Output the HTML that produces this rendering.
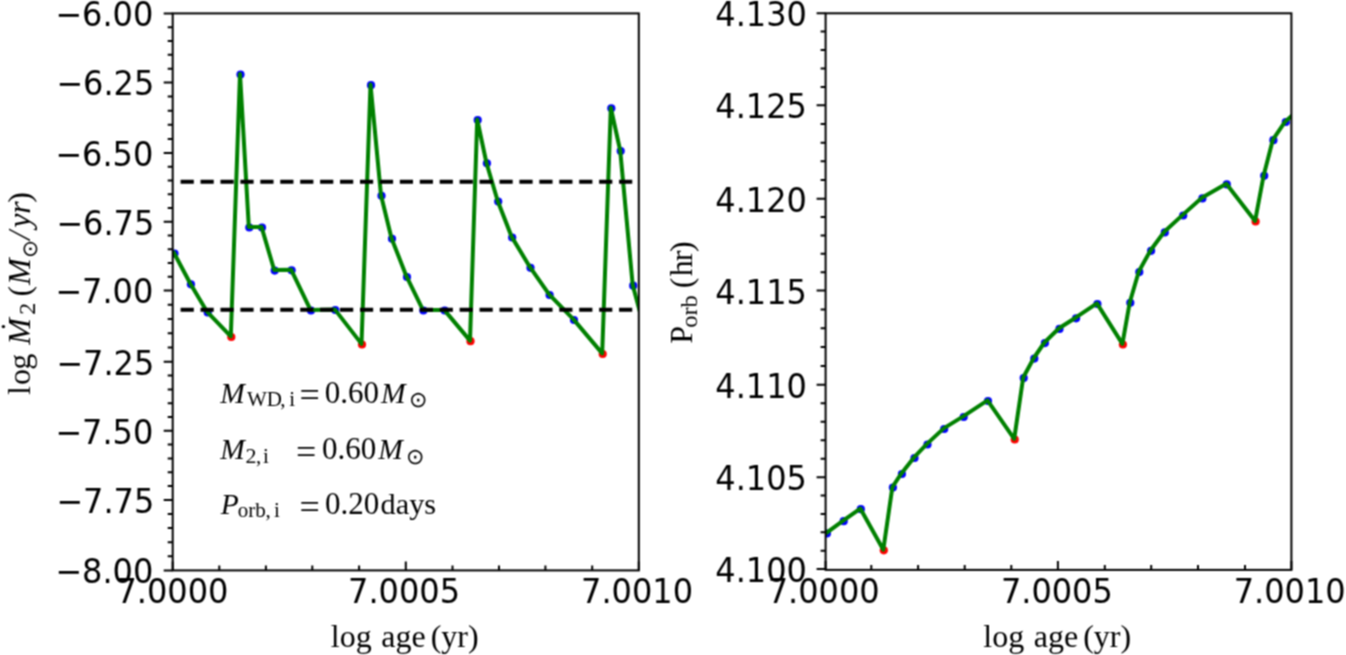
<!DOCTYPE html>
<html><head><meta charset="utf-8"><title>plot</title>
<style>
html,body{margin:0;padding:0;background:#fff;}
body{width:1346px;height:655px;overflow:hidden;}
svg{display:block;}
text{fill:#000;}
</style></head><body>
<svg width="1346" height="655" viewBox="0 0 1346 655">
<defs><filter id="bl" x="0" y="0" width="1346" height="655" filterUnits="userSpaceOnUse" color-interpolation-filters="sRGB"><feConvolveMatrix order="3" kernelMatrix="1 2 1 2 4 2 1 2 1" divisor="16" edgeMode="duplicate"/></filter></defs>
<g filter="url(#bl)">
<rect width="1346" height="655" fill="#fff"/>
<clipPath id="cl"><rect x="172.7" y="13.4" width="466.1" height="557"/></clipPath>
<g clip-path="url(#cl)">
<circle cx="174.5" cy="253.5" r="4.1" fill="#0000ff"/>
<circle cx="190.9" cy="284.3" r="4.1" fill="#0000ff"/>
<circle cx="207.7" cy="312.5" r="4.1" fill="#0000ff"/>
<circle cx="231.3" cy="337" r="4.1" fill="#ff0000"/>
<circle cx="240.5" cy="74.5" r="4.1" fill="#0000ff"/>
<circle cx="249.3" cy="227.5" r="4.1" fill="#0000ff"/>
<circle cx="262" cy="227.5" r="4.1" fill="#0000ff"/>
<circle cx="274.7" cy="270.6" r="4.1" fill="#0000ff"/>
<circle cx="291.6" cy="270.3" r="4.1" fill="#0000ff"/>
<circle cx="311" cy="310.5" r="4.1" fill="#0000ff"/>
<circle cx="335.3" cy="310" r="4.1" fill="#0000ff"/>
<circle cx="362" cy="344.5" r="4.1" fill="#ff0000"/>
<circle cx="371" cy="85.2" r="4.1" fill="#0000ff"/>
<circle cx="381.5" cy="195.8" r="4.1" fill="#0000ff"/>
<circle cx="392" cy="238.8" r="4.1" fill="#0000ff"/>
<circle cx="407" cy="277" r="4.1" fill="#0000ff"/>
<circle cx="423.4" cy="310.5" r="4.1" fill="#0000ff"/>
<circle cx="444.7" cy="310.5" r="4.1" fill="#0000ff"/>
<circle cx="470.5" cy="341.2" r="4.1" fill="#ff0000"/>
<circle cx="477.7" cy="120.1" r="4.1" fill="#0000ff"/>
<circle cx="486.9" cy="163.3" r="4.1" fill="#0000ff"/>
<circle cx="498.2" cy="201.6" r="4.1" fill="#0000ff"/>
<circle cx="512.2" cy="237.5" r="4.1" fill="#0000ff"/>
<circle cx="530.5" cy="267.8" r="4.1" fill="#0000ff"/>
<circle cx="549.6" cy="295" r="4.1" fill="#0000ff"/>
<circle cx="574" cy="320" r="4.1" fill="#0000ff"/>
<circle cx="602.7" cy="354" r="4.1" fill="#ff0000"/>
<circle cx="611.3" cy="108.3" r="4.1" fill="#0000ff"/>
<circle cx="620.7" cy="151.1" r="4.1" fill="#0000ff"/>
<circle cx="633.2" cy="285.7" r="4.1" fill="#0000ff"/>
<path d="M174,252.9 L190.4,283.7 L207.2,311.9 L230.8,336.4 L240,73.9 L248.8,226.9 L261.5,226.9 L274.2,270 L291.1,269.7 L310.5,309.9 L334.8,309.4 L361.5,343.9 L370.5,84.6 L381,195.2 L391.5,238.2 L406.5,276.4 L422.9,309.9 L444.2,309.9 L470,340.6 L477.2,119.5 L486.4,162.7 L497.7,201 L511.7,236.9 L530,267.2 L549.1,294.4 L573.5,319.4 L602.2,353.4 L610.8,107.7 L620.2,150.5 L632.7,285.1 L645.7,333.6" fill="none" stroke="#008000" stroke-width="4.0" stroke-linejoin="round" stroke-linecap="square"/>
<line x1="180.6" y1="181.8" x2="638.8" y2="181.8" stroke="#000" stroke-width="3.9" stroke-dasharray="13.2 6.73"/>
<line x1="180.6" y1="309.8" x2="638.8" y2="309.8" stroke="#000" stroke-width="3.9" stroke-dasharray="13.2 6.73"/>
</g>
<path d="M163.7,13.4H172.7M167.7,27.22H172.7M167.7,41.04H172.7M167.7,54.86H172.7M167.7,68.68H172.7M163.7,82.5H172.7M167.7,96.6H172.7M167.7,110.7H172.7M167.7,124.8H172.7M167.7,138.9H172.7M163.7,153H172.7M167.7,166.76H172.7M167.7,180.52H172.7M167.7,194.28H172.7M167.7,208.04H172.7M163.7,221.8H172.7M167.7,235.54H172.7M167.7,249.28H172.7M167.7,263.02H172.7M167.7,276.76H172.7M163.7,290.5H172.7M167.7,304.76H172.7M167.7,319.02H172.7M167.7,333.28H172.7M167.7,347.54H172.7M163.7,361.8H172.7M167.7,375.6H172.7M167.7,389.4H172.7M167.7,403.2H172.7M167.7,417H172.7M163.7,430.8H172.7M167.7,444.62H172.7M167.7,458.44H172.7M167.7,472.26H172.7M167.7,486.08H172.7M163.7,499.9H172.7M167.7,514H172.7M167.7,528.1H172.7M167.7,542.2H172.7M167.7,556.3H172.7M163.7,570.4H172.7M172.7,570.4V561.4M219.3,570.4V565.4M265.9,570.4V565.4M312.3,570.4V565.4M359.1,570.4V565.4M405.8,570.4V561.4M452.5,570.4V565.4M499,570.4V565.4M545.4,570.4V565.4M592.2,570.4V565.4M638.8,570.4V561.4" stroke="#000" stroke-width="2.0" fill="none"/>
<rect x="172.7" y="13.4" width="466.1" height="557" fill="none" stroke="#000" stroke-width="2.0"/>
<text transform="translate(55.3,26.1) scale(1,1.056)" style="font-family:'DejaVu Sans',sans-serif;font-size:32.0px">−6.00</text>
<text transform="translate(56.3,95.2) scale(1,1.056)" style="font-family:'DejaVu Sans',sans-serif;font-size:32.0px">−6.25</text>
<text transform="translate(55.3,165.7) scale(1,1.056)" style="font-family:'DejaVu Sans',sans-serif;font-size:32.0px">−6.50</text>
<text transform="translate(56.3,234.5) scale(1,1.056)" style="font-family:'DejaVu Sans',sans-serif;font-size:32.0px">−6.75</text>
<text transform="translate(55.3,303.2) scale(1,1.056)" style="font-family:'DejaVu Sans',sans-serif;font-size:32.0px">−7.00</text>
<text transform="translate(56.3,374.5) scale(1,1.056)" style="font-family:'DejaVu Sans',sans-serif;font-size:32.0px">−7.25</text>
<text transform="translate(55.3,443.5) scale(1,1.056)" style="font-family:'DejaVu Sans',sans-serif;font-size:32.0px">−7.50</text>
<text transform="translate(56.3,512.6) scale(1,1.056)" style="font-family:'DejaVu Sans',sans-serif;font-size:32.0px">−7.75</text>
<text transform="translate(55.3,583.1) scale(1,1.056)" style="font-family:'DejaVu Sans',sans-serif;font-size:32.0px">−8.00</text>
<text transform="translate(116.5,602.8) scale(1,1.056)" style="font-family:'DejaVu Sans',sans-serif;font-size:32.0px">7.0000</text>
<text transform="translate(348.1,602.8) scale(1,1.056)" style="font-family:'DejaVu Sans',sans-serif;font-size:32.0px">7.0005</text>
<text transform="translate(581.1,602.8) scale(1,1.056)" style="font-family:'DejaVu Sans',sans-serif;font-size:32.0px">7.0010</text>
<clipPath id="cr"><rect x="825.6" y="13.3" width="465.8" height="556.6"/></clipPath>
<g clip-path="url(#cr)">
<circle cx="826.9" cy="533.5" r="4.1" fill="#0000ff"/>
<circle cx="843.7" cy="521.2" r="4.1" fill="#0000ff"/>
<circle cx="860.8" cy="509.2" r="4.1" fill="#0000ff"/>
<circle cx="883.8" cy="550.3" r="4.1" fill="#ff0000"/>
<circle cx="892.9" cy="487.6" r="4.1" fill="#0000ff"/>
<circle cx="901.9" cy="474" r="4.1" fill="#0000ff"/>
<circle cx="914.5" cy="458" r="4.1" fill="#0000ff"/>
<circle cx="927.5" cy="444.5" r="4.1" fill="#0000ff"/>
<circle cx="944.2" cy="429" r="4.1" fill="#0000ff"/>
<circle cx="963.7" cy="417" r="4.1" fill="#0000ff"/>
<circle cx="988" cy="401" r="4.1" fill="#0000ff"/>
<circle cx="1014.7" cy="439.5" r="4.1" fill="#ff0000"/>
<circle cx="1023.7" cy="378.1" r="4.1" fill="#0000ff"/>
<circle cx="1034.3" cy="358.6" r="4.1" fill="#0000ff"/>
<circle cx="1044.9" cy="343.1" r="4.1" fill="#0000ff"/>
<circle cx="1059.5" cy="328.9" r="4.1" fill="#0000ff"/>
<circle cx="1076.1" cy="318.3" r="4.1" fill="#0000ff"/>
<circle cx="1097.4" cy="304" r="4.1" fill="#0000ff"/>
<circle cx="1122.9" cy="344.5" r="4.1" fill="#ff0000"/>
<circle cx="1130.3" cy="302.8" r="4.1" fill="#0000ff"/>
<circle cx="1139.3" cy="272.1" r="4.1" fill="#0000ff"/>
<circle cx="1151.1" cy="250.8" r="4.1" fill="#0000ff"/>
<circle cx="1164.8" cy="232.4" r="4.1" fill="#0000ff"/>
<circle cx="1183.2" cy="215.5" r="4.1" fill="#0000ff"/>
<circle cx="1202.4" cy="198.4" r="4.1" fill="#0000ff"/>
<circle cx="1226.8" cy="184.4" r="4.1" fill="#0000ff"/>
<circle cx="1255.6" cy="221.5" r="4.1" fill="#ff0000"/>
<circle cx="1264.2" cy="175.8" r="4.1" fill="#0000ff"/>
<circle cx="1273.4" cy="140.2" r="4.1" fill="#0000ff"/>
<circle cx="1285.8" cy="122" r="4.1" fill="#0000ff"/>
<path d="M826.4,532.9 L843.2,520.6 L860.3,508.6 L883.3,549.7 L892.4,487 L901.4,473.4 L914,457.4 L927,443.9 L943.7,428.4 L963.2,416.4 L987.5,400.4 L1014.2,438.9 L1023.2,377.5 L1033.8,358 L1044.4,342.5 L1059,328.3 L1075.6,317.7 L1096.9,303.4 L1122.4,343.9 L1129.8,302.2 L1138.8,271.5 L1150.6,250.2 L1164.3,231.8 L1182.7,214.9 L1201.9,197.8 L1226.3,183.8 L1255.1,220.9 L1263.7,175.2 L1272.9,139.6 L1285.3,121.4 L1298.5,110.1" fill="none" stroke="#008000" stroke-width="4.0" stroke-linejoin="round" stroke-linecap="square"/>
</g>
<path d="M816.6,13.2H825.6M820.6,31.62H825.6M820.6,50.04H825.6M820.6,68.46H825.6M820.6,86.88H825.6M816.6,105.3H825.6M820.6,123.98H825.6M820.6,142.66H825.6M820.6,161.34H825.6M820.6,180.02H825.6M816.6,198.7H825.6M820.6,217.08H825.6M820.6,235.46H825.6M820.6,253.84H825.6M820.6,272.22H825.6M816.6,290.6H825.6M820.6,309.43H825.6M820.6,328.26H825.6M820.6,347.09H825.6M820.6,365.92H825.6M816.6,384.75H825.6M820.6,403.24H825.6M820.6,421.73H825.6M820.6,440.22H825.6M820.6,458.71H825.6M816.6,477.2H825.6M820.6,495.56H825.6M820.6,513.92H825.6M820.6,532.28H825.6M820.6,550.64H825.6M816.6,569H825.6M825.6,569.9V560.9M871.3,569.9V564.9M918.1,569.9V564.9M964.7,569.9V564.9M1011.3,569.9V564.9M1057.9,569.9V560.9M1104.8,569.9V564.9M1151.2,569.9V564.9M1198,569.9V564.9M1245,569.9V564.9M1291.4,569.9V560.9" stroke="#000" stroke-width="2.0" fill="none"/>
<rect x="825.6" y="13.3" width="465.8" height="556.6" fill="none" stroke="#000" stroke-width="2.0"/>
<text transform="translate(715.3,26.2) scale(1,1.056)" style="font-family:'DejaVu Sans',sans-serif;font-size:32.0px">4.130</text>
<text transform="translate(715.3,118.3) scale(1,1.056)" style="font-family:'DejaVu Sans',sans-serif;font-size:32.0px">4.125</text>
<text transform="translate(715.3,211.7) scale(1,1.056)" style="font-family:'DejaVu Sans',sans-serif;font-size:32.0px">4.120</text>
<text transform="translate(715.3,303.6) scale(1,1.056)" style="font-family:'DejaVu Sans',sans-serif;font-size:32.0px">4.115</text>
<text transform="translate(715.3,397.75) scale(1,1.056)" style="font-family:'DejaVu Sans',sans-serif;font-size:32.0px">4.110</text>
<text transform="translate(715.3,490.2) scale(1,1.056)" style="font-family:'DejaVu Sans',sans-serif;font-size:32.0px">4.105</text>
<text transform="translate(715.3,582) scale(1,1.056)" style="font-family:'DejaVu Sans',sans-serif;font-size:32.0px">4.100</text>
<text transform="translate(767.7,602.8) scale(1,1.056)" style="font-family:'DejaVu Sans',sans-serif;font-size:32.0px">7.0000</text>
<text transform="translate(1000.9,602.8) scale(1,1.056)" style="font-family:'DejaVu Sans',sans-serif;font-size:32.0px">7.0005</text>
<text transform="translate(1233.7,602.8) scale(1,1.056)" style="font-family:'DejaVu Sans',sans-serif;font-size:32.0px">7.0010</text>
<text x="330.8" y="646.5" style="font-family:'Liberation Serif',serif;font-size:32px">log</text>
<text x="381.2" y="646.5" style="font-family:'Liberation Serif',serif;font-size:32px">age</text>
<text x="430.7" y="646.5" style="font-family:'Liberation Serif',serif;font-size:32px">(yr)</text>
<text x="983.3" y="646.5" style="font-family:'Liberation Serif',serif;font-size:32px">log</text>
<text x="1033.7" y="646.5" style="font-family:'Liberation Serif',serif;font-size:32px">age</text>
<text x="1083.2" y="646.5" style="font-family:'Liberation Serif',serif;font-size:32px">(yr)</text>
<text transform="translate(30.3,395.03) scale(1,1.03) rotate(-90)" style="font-family:'Liberation Serif',serif;font-size:31.07px">l</text>
<text transform="translate(30.3,384.93) scale(1,1.03) rotate(-90)" style="font-family:'Liberation Serif',serif;font-size:31.07px">o</text>
<text transform="translate(30.3,369.74) scale(1,1.03) rotate(-90)" style="font-family:'Liberation Serif',serif;font-size:31.07px">g</text>
<text transform="translate(30.3,344.65) scale(1,1.03) rotate(-90)" style="font-family:'Liberation Serif',serif;font-size:31.07px;font-style:italic">M</text>
<text transform="translate(35.3,314.67) scale(1,1.03) rotate(-90)" style="font-family:'Liberation Serif',serif;font-size:23.3px">2</text>
<text transform="translate(30.3,296.45) scale(1,1.03) rotate(-90)" style="font-family:'Liberation Serif',serif;font-size:31.07px">(</text>
<text transform="translate(30.3,285.11) scale(1,1.03) rotate(-90)" style="font-family:'Liberation Serif',serif;font-size:31.07px;font-style:italic">M</text>
<text transform="translate(37.1,258.47) scale(1,1.03) rotate(-90)" style="font-family:'Liberation Serif',serif;font-size:21.36px">⊙</text>
<text transform="translate(30.3,239.65) scale(1,1.03) rotate(-90)" style="font-family:'Liberation Serif',serif;font-size:31.07px;font-style:italic">/</text>
<text transform="translate(30.3,227.68) scale(1,1.03) rotate(-90)" style="font-family:'Liberation Serif',serif;font-size:31.07px;font-style:italic">y</text>
<text transform="translate(30.3,213.69) scale(1,1.03) rotate(-90)" style="font-family:'Liberation Serif',serif;font-size:31.07px;font-style:italic">r</text>
<text transform="translate(30.3,202.75) scale(1,1.03) rotate(-90)" style="font-family:'Liberation Serif',serif;font-size:31.07px">)</text>
<circle cx="3.4" cy="326.6" r="1.7" fill="#000"/>
<text transform="translate(692.1,343.7) scale(1,1.03) rotate(-90)" style="font-family:'Liberation Serif',serif;font-size:31.07px">P</text>
<text transform="translate(696.7,327.78) scale(1,1.03) rotate(-90)" style="font-family:'Liberation Serif',serif;font-size:23.79px">orb</text>
<text transform="translate(692.1,288.3) scale(1,1.03) rotate(-90)" style="font-family:'Liberation Serif',serif;font-size:31.07px">(</text>
<text transform="translate(692.1,276.18) scale(1,1.03) rotate(-90)" style="font-family:'Liberation Serif',serif;font-size:31.07px">h</text>
<text transform="translate(692.1,261.31) scale(1,1.03) rotate(-90)" style="font-family:'Liberation Serif',serif;font-size:31.07px">r</text>
<text transform="translate(692.1,252.05) scale(1,1.03) rotate(-90)" style="font-family:'Liberation Serif',serif;font-size:31.07px">)</text>
<text x="220.3" y="402.5" style="font-family:'Liberation Serif',serif;font-size:29.5px;font-style:italic">M</text>
<text x="246.9" y="405.6" style="font-family:'Liberation Serif',serif;font-size:21px">WD</text>
<text x="280.2" y="405.6" style="font-family:'Liberation Serif',serif;font-size:21px">,</text>
<text x="289.2" y="405.6" style="font-family:'Liberation Serif',serif;font-size:21px">i</text>
<text x="324.7" y="402.5" style="font-family:'Liberation Serif',serif;font-size:31px">0.60</text>
<text x="381" y="402.5" style="font-family:'Liberation Serif',serif;font-size:29.5px;font-style:italic">M</text>
<text x="408.8" y="406.6" style="font-family:'Liberation Serif',serif;font-size:22px">⊙</text>
<text x="220.3" y="459" style="font-family:'Liberation Serif',serif;font-size:29.5px;font-style:italic">M</text>
<text x="245.5" y="462.6" style="font-family:'Liberation Serif',serif;font-size:22px">2</text>
<text x="255.9" y="462.6" style="font-family:'Liberation Serif',serif;font-size:21px">,</text>
<text x="263" y="462.6" style="font-family:'Liberation Serif',serif;font-size:21px">i</text>
<text x="322" y="459" style="font-family:'Liberation Serif',serif;font-size:31px">0.60</text>
<text x="378.3" y="459" style="font-family:'Liberation Serif',serif;font-size:29.5px;font-style:italic">M</text>
<text x="405.7" y="463.6" style="font-family:'Liberation Serif',serif;font-size:22px">⊙</text>
<text x="220.7" y="514" style="font-family:'Liberation Serif',serif;font-size:29.5px;font-style:italic">P</text>
<text x="237.7" y="517.3" style="font-family:'Liberation Serif',serif;font-size:21px">orb</text>
<text x="265.6" y="517.3" style="font-family:'Liberation Serif',serif;font-size:21px">,</text>
<text x="274.1" y="517.3" style="font-family:'Liberation Serif',serif;font-size:21px">i</text>
<text x="325.1" y="514" style="font-family:'Liberation Serif',serif;font-size:31px">0.20</text>
<text x="380.6" y="514" style="font-family:'Liberation Serif',serif;font-size:30.3px">days</text>
<text x="299.6" y="407.1" style="font-family:'Liberation Serif',serif;font-size:36px">=</text>
<text x="296" y="463.7" style="font-family:'Liberation Serif',serif;font-size:36px">=</text>
<text x="299.6" y="519.2" style="font-family:'Liberation Serif',serif;font-size:36px">=</text>
</g>
</svg>
</body></html>
